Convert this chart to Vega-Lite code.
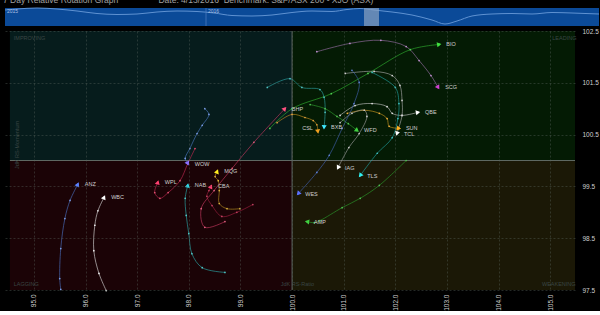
{
  "$schema": "https://vega.github.io/schema/vega-lite/v6.json",
  "background": "#000000",
  "padding": {"left": 3, "top": -5, "right": 0, "bottom": 0},
  "spacing": 1,
  "title": {"text": "7 Day Relative Rotation Graph\u00a0\u00a0\u00a0\u00a0\u00a0\u00a0\u00a0\u00a0\u00a0\u00a0\u00a0\u00a0\u00a0\u00a0\u00a0\u00a0\u00a0Date: 4/13/2016\u00a0\u00a0Benchmark: S&P/ASX 200 - XJO (ASX)", "anchor": "start", "fontSize": 8.5, "fontWeight": "normal", "color": "#a0a0a0", "font": "Liberation Sans", "offset": 2},
  "config": {"view": {"stroke": null}, "font": "Liberation Sans"},
  "datasets": {
    "nav": [
      {"d":0,"v":16},{"d":12,"v":17},{"d":32,"v":18},{"d":52,"v":17},{"d":72,"v":15},{"d":92,"v":12.5},{"d":112,"v":11.5},{"d":132,"v":12},{"d":152,"v":14},{"d":172,"v":15},{"d":192,"v":14.5},{"d":209,"v":13},{"d":227,"v":10.5},{"d":247,"v":10},{"d":267,"v":11},{"d":287,"v":13.5},{"d":307,"v":15},{"d":327,"v":14.5},{"d":342,"v":16.5},{"d":355,"v":17.5},{"d":369,"v":16},{"d":387,"v":14},{"d":407,"v":11},{"d":427,"v":6},{"d":440,"v":2},{"d":452,"v":5},{"d":467,"v":10},{"d":487,"v":12},{"d":507,"v":12.5},{"d":527,"v":12},{"d":547,"v":13.5},{"d":567,"v":13},{"d":594,"v":12}
    ],
    "rrg": [
      {"t":"ANZ","i":0,"x":95.52,"y":97.51},{"t":"ANZ","i":1,"x":95.50,"y":97.72},{"t":"ANZ","i":2,"x":95.52,"y":98.30},{"t":"ANZ","i":3,"x":95.60,"y":98.88},{"t":"ANZ","i":4,"x":95.70,"y":99.23},{"t":"ANZ","i":5,"x":95.85,"y":99.54},
      {"t":"WBC","i":0,"x":96.40,"y":97.49},{"t":"WBC","i":1,"x":96.26,"y":97.82},{"t":"WBC","i":2,"x":96.16,"y":98.26},{"t":"WBC","i":3,"x":96.18,"y":98.75},{"t":"WBC","i":4,"x":96.24,"y":99.03},{"t":"WBC","i":5,"x":96.36,"y":99.29},
      {"t":"NAB","i":0,"x":98.70,"y":97.84},{"t":"NAB","i":1,"x":98.26,"y":97.93},{"t":"NAB","i":2,"x":98.06,"y":98.20},{"t":"NAB","i":3,"x":98.00,"y":98.59},{"t":"NAB","i":4,"x":97.95,"y":98.94},{"t":"NAB","i":5,"x":97.93,"y":99.27},{"t":"NAB","i":6,"x":97.98,"y":99.52},
      {"t":"WPL","i":0,"x":98.12,"y":100.23},{"t":"WPL","i":1,"x":97.98,"y":99.94},{"t":"WPL","i":2,"x":97.83,"y":99.61},{"t":"WPL","i":3,"x":97.60,"y":99.38},{"t":"WPL","i":4,"x":97.44,"y":99.27},{"t":"WPL","i":5,"x":97.34,"y":99.38},{"t":"WPL","i":6,"x":97.40,"y":99.58},
      {"t":"WOW","i":0,"x":98.31,"y":101.00},{"t":"WOW","i":1,"x":98.39,"y":100.89},{"t":"WOW","i":2,"x":98.26,"y":100.68},{"t":"WOW","i":3,"x":98.16,"y":100.52},{"t":"WOW","i":4,"x":98.02,"y":100.23},{"t":"WOW","i":5,"x":97.93,"y":100.04},{"t":"WOW","i":6,"x":97.98,"y":99.94},
      {"t":"MQG","i":0,"x":98.99,"y":99.07},{"t":"MQG","i":1,"x":98.74,"y":99.07},{"t":"MQG","i":2,"x":98.59,"y":99.17},{"t":"MQG","i":3,"x":98.59,"y":99.42},{"t":"MQG","i":4,"x":98.57,"y":99.61},{"t":"MQG","i":5,"x":98.51,"y":99.69},{"t":"MQG","i":6,"x":98.55,"y":99.79},
      {"t":"CBA","i":0,"x":99.24,"y":99.15},{"t":"CBA","i":1,"x":98.93,"y":99.00},{"t":"CBA","i":2,"x":98.64,"y":98.92},{"t":"CBA","i":3,"x":98.45,"y":99.13},{"t":"CBA","i":4,"x":98.35,"y":99.31},{"t":"CBA","i":5,"x":98.39,"y":99.42},{"t":"CBA","i":6,"x":98.43,"y":99.50},
      {"t":"BHP","i":0,"x":98.70,"y":98.82},{"t":"BHP","i":1,"x":98.31,"y":98.71},{"t":"BHP","i":2,"x":98.24,"y":99.07},{"t":"BHP","i":3,"x":98.49,"y":99.42},{"t":"BHP","i":4,"x":98.84,"y":99.85},{"t":"BHP","i":5,"x":99.26,"y":100.35},{"t":"BHP","i":6,"x":99.86,"y":101.00},
      {"t":"SCG","i":0,"x":100.48,"y":102.10},{"t":"SCG","i":1,"x":101.12,"y":102.26},{"t":"SCG","i":2,"x":101.72,"y":102.32},{"t":"SCG","i":3,"x":102.21,"y":102.20},{"t":"SCG","i":4,"x":102.46,"y":101.93},{"t":"SCG","i":5,"x":102.69,"y":101.64},{"t":"SCG","i":6,"x":102.83,"y":101.41},
      {"t":"BIO","i":0,"x":99.57,"y":100.62},{"t":"BIO","i":1,"x":100.00,"y":101.00},{"t":"BIO","i":2,"x":100.76,"y":101.29},{"t":"BIO","i":3,"x":101.47,"y":101.68},{"t":"BIO","i":4,"x":102.29,"y":102.14},{"t":"BIO","i":5,"x":102.85,"y":102.24},
      {"t":"BXB","i":0,"x":99.52,"y":101.41},{"t":"BXB","i":1,"x":99.96,"y":101.58},{"t":"BXB","i":2,"x":100.19,"y":101.41},{"t":"BXB","i":3,"x":100.54,"y":101.37},{"t":"BXB","i":4,"x":100.62,"y":101.22},{"t":"BXB","i":5,"x":100.64,"y":100.93},{"t":"BXB","i":6,"x":100.62,"y":100.64},
      {"t":"CSL","i":0,"x":99.71,"y":100.73},{"t":"CSL","i":1,"x":100.00,"y":100.89},{"t":"CSL","i":2,"x":100.25,"y":100.83},{"t":"CSL","i":3,"x":100.41,"y":100.77},{"t":"CSL","i":4,"x":100.48,"y":100.69},{"t":"CSL","i":5,"x":100.50,"y":100.56},
      {"t":"WFD","i":0,"x":100.35,"y":101.08},{"t":"WFD","i":1,"x":100.64,"y":101.00},{"t":"WFD","i":2,"x":100.87,"y":100.85},{"t":"WFD","i":3,"x":101.09,"y":100.71},{"t":"WFD","i":4,"x":101.26,"y":100.58},
      {"t":"SUN","i":0,"x":101.07,"y":100.91},{"t":"SUN","i":1,"x":101.40,"y":100.97},{"t":"SUN","i":2,"x":101.69,"y":100.91},{"t":"SUN","i":3,"x":101.84,"y":100.81},{"t":"SUN","i":4,"x":101.88,"y":100.66},{"t":"SUN","i":5,"x":102.07,"y":100.62},
      {"t":"QBE","i":0,"x":100.93,"y":100.87},{"t":"QBE","i":1,"x":101.22,"y":101.06},{"t":"QBE","i":2,"x":101.55,"y":101.10},{"t":"QBE","i":3,"x":101.84,"y":101.04},{"t":"QBE","i":4,"x":101.94,"y":100.91},{"t":"QBE","i":5,"x":102.13,"y":100.87},{"t":"QBE","i":6,"x":102.44,"y":100.93},
      {"t":"TCL","i":0,"x":101.03,"y":101.68},{"t":"TCL","i":1,"x":101.59,"y":101.72},{"t":"TCL","i":2,"x":101.94,"y":101.64},{"t":"TCL","i":3,"x":102.09,"y":101.45},{"t":"TCL","i":4,"x":102.13,"y":101.16},{"t":"TCL","i":5,"x":102.13,"y":100.87},{"t":"TCL","i":6,"x":102.03,"y":100.52},
      {"t":"TLS","i":0,"x":101.55,"y":101.70},{"t":"TLS","i":1,"x":102.00,"y":101.41},{"t":"TLS","i":2,"x":102.07,"y":101.10},{"t":"TLS","i":3,"x":102.05,"y":100.81},{"t":"TLS","i":4,"x":101.94,"y":100.44},{"t":"TLS","i":5,"x":101.65,"y":100.14},{"t":"TLS","i":6,"x":101.32,"y":99.71},
      {"t":"IAG","i":0,"x":100.93,"y":100.73},{"t":"IAG","i":1,"x":101.16,"y":100.91},{"t":"IAG","i":2,"x":101.40,"y":100.97},{"t":"IAG","i":3,"x":101.45,"y":100.85},{"t":"IAG","i":4,"x":101.30,"y":100.52},{"t":"IAG","i":5,"x":101.10,"y":100.25},{"t":"IAG","i":6,"x":100.89,"y":99.86},
      {"t":"WES","i":0,"x":101.16,"y":101.74},{"t":"WES","i":1,"x":101.30,"y":101.51},{"t":"WES","i":2,"x":101.20,"y":101.10},{"t":"WES","i":3,"x":100.97,"y":100.62},{"t":"WES","i":4,"x":100.72,"y":100.10},{"t":"WES","i":5,"x":100.48,"y":99.77},{"t":"WES","i":6,"x":100.12,"y":99.36},
      {"t":"AMP","i":0,"x":102.21,"y":100.00},{"t":"AMP","i":1,"x":101.69,"y":99.52},{"t":"AMP","i":2,"x":101.32,"y":99.27},{"t":"AMP","i":3,"x":100.97,"y":99.09},{"t":"AMP","i":4,"x":100.54,"y":98.84},{"t":"AMP","i":5,"x":100.43,"y":98.80},{"t":"AMP","i":6,"x":100.29,"y":98.82}
    ]
  },
  "vconcat": [
    {
      "width": 594,
      "height": 18,
      "view": {"fill": "#0b4a98", "stroke": null},
      "layer": [
        {"data": {"values": [{"d": 201}]}, "mark": {"type": "rule", "color": "#3d6fb5", "strokeWidth": 1}, "encoding": {"x": {"field": "d", "type": "quantitative", "scale": {"domain": [0, 594], "nice": false, "zero": false}, "axis": null}}},
        {"data": {"name": "nav"}, "mark": {"type": "line", "color": "#5f92d2", "strokeWidth": 1, "interpolate": "monotone"},
         "encoding": {"x": {"field": "d", "type": "quantitative"}, "y": {"field": "v", "type": "quantitative", "scale": {"domain": [0, 18], "nice": false, "zero": false}, "axis": null}}},
        {"data": {"values": [{"a": 359, "b": 374}]}, "mark": {"type": "rect", "color": "#8aa3c2", "opacity": 0.7}, "encoding": {"x": {"field": "a", "type": "quantitative"}, "x2": {"field": "b"}}},
        {"data": {"values": [{"d": 2, "v": 15, "s": "2015"}, {"d": 203, "v": 15, "s": "2016"}]}, "mark": {"type": "text", "align": "left", "baseline": "middle", "fontSize": 5, "color": "#a9bfe0"},
         "encoding": {"x": {"field": "d", "type": "quantitative"}, "y": {"field": "v", "type": "quantitative"}, "text": {"field": "s"}}}
      ]
    },
    {
      "width": 570,
      "height": 259,
      "view": {"fill": "#000000", "stroke": null},
      "resolve": {"scale": {"color": "independent"}},
      "layer": [
        {
          "data": {"values": [
            {"q": "Improving", "x0": 94.535, "x1": 100, "y0": 100, "y1": 102.5},
            {"q": "Leading", "x0": 100, "x1": 105.48, "y0": 100, "y1": 102.5},
            {"q": "Lagging", "x0": 94.535, "x1": 100, "y0": 97.5, "y1": 100},
            {"q": "Weakening", "x0": 100, "x1": 105.48, "y0": 97.5, "y1": 100}
          ]},
          "mark": {"type": "rect"},
          "encoding": {
            "x": {"field": "x0", "type": "quantitative", "scale": {"domain": [94.44, 105.48], "nice": false, "zero": false},
                  "axis": {"values": [95, 95.5, 96, 96.5, 97, 97.5, 98, 98.5, 99, 99.5, 100, 100.5, 101, 101.5, 102, 102.5, 103, 103.5, 104, 104.5, 105], "format": ".1f", "labelAngle": -90, "labelColor": "#d0d0d0", "labelFontSize": 6.5, "ticks": false, "domain": false, "grid": true, "gridColor": "#5a665e", "gridDash": [2, 2], "gridOpacity": 0.5, "gridWidth": 0.8, "title": null, "labelPadding": 4, "zindex": 1}},
            "x2": {"field": "x1"},
            "y": {"field": "y0", "type": "quantitative", "scale": {"domain": [97.5, 102.5], "nice": false, "zero": false},
                  "axis": {"orient": "right", "values": [97.5, 98, 98.5, 99, 99.5, 100, 100.5, 101, 101.5, 102, 102.5], "format": ".1f", "labelColor": "#d0d0d0", "labelFontSize": 6.5, "ticks": false, "domain": false, "grid": true, "gridColor": "#5a665e", "gridDash": [2, 2], "gridOpacity": 0.5, "gridWidth": 0.8, "title": null, "labelPadding": 7, "zindex": 1}},
            "y2": {"field": "y1"},
            "color": {"field": "q", "type": "nominal", "scale": {"domain": ["Improving", "Leading", "Lagging", "Weakening"], "range": ["#061c1c", "#041b04", "#1b0306", "#1b1806"]}, "legend": null}
          }
        },
        {"data": {"values": [{}]}, "mark": {"type": "rule", "color": "#5e6862", "strokeWidth": 1}, "encoding": {"x": {"datum": 100}, "y": {"datum": 97.5}, "y2": {"datum": 102.5}}},
        {"data": {"values": [{}]}, "mark": {"type": "rule", "color": "#5e6862", "strokeWidth": 1}, "encoding": {"y": {"datum": 100}, "x": {"datum": 94.535}, "x2": {"datum": 105.48}}},
        {
          "data": {"values": [
            {"s": "IMPROVING", "x": 94.61, "y": 102.37},
            {"s": "LEADING", "x": 105.04, "y": 102.37},
            {"s": "LAGGING", "x": 94.61, "y": 97.62},
            {"s": "WEAKENING", "x": 104.84, "y": 97.62},
            {"s": "JdK RS-Ratio", "x": 99.78, "y": 97.62}
          ]},
          "mark": {"type": "text", "align": "left", "baseline": "middle", "fontSize": 5.5, "color": "#3a4644"},
          "encoding": {"x": {"field": "x", "type": "quantitative"}, "y": {"field": "y", "type": "quantitative"}, "text": {"field": "s"}}
        },
        {
          "data": {"values": [{"s": "JdK RS-Momentum", "x": 94.67, "y": 100.3}]},
          "mark": {"type": "text", "align": "center", "baseline": "middle", "fontSize": 5.5, "angle": 270, "color": "#3a4644"},
          "encoding": {"x": {"field": "x", "type": "quantitative"}, "y": {"field": "y", "type": "quantitative"}, "text": {"field": "s"}}
        },
        {
          "data": {"name": "rrg"},
          "mark": {"type": "line", "strokeWidth": 0.75, "opacity": 0.85, "interpolate": "catmull-rom"},
          "encoding": {
            "x": {"field": "x", "type": "quantitative"},
            "y": {"field": "y", "type": "quantitative"},
            "order": {"field": "i", "type": "quantitative"},
            "color": {"field": "t", "type": "nominal", "legend": null, "scale": {"domain": ["ANZ","WBC","NAB","WPL","WOW","MQG","CBA","BHP","SCG","BIO","BXB","CSL","WFD","SUN","QBE","TCL","TLS","IAG","WES","AMP"], "range": ["#4a6fc0","#d8d8d8","#2aa8a8","#c02850","#4a78c0","#b89020","#a02040","#c83860","#9a70a8","#30b030","#2aa0a0","#c89020","#30a030","#d09a20","#c0c0c0","#a8a8a8","#20a0a0","#a0a0a0","#4060b0","#2a9a2a"]}}
          }
        },
        {
          "data": {"name": "rrg"},
          "mark": {"type": "point", "filled": true, "size": 3, "opacity": 1},
          "encoding": {
            "x": {"field": "x", "type": "quantitative"},
            "y": {"field": "y", "type": "quantitative"},
            "color": {"field": "t", "type": "nominal", "legend": null, "scale": {"domain": ["ANZ","WBC","NAB","WPL","WOW","MQG","CBA","BHP","SCG","BIO","BXB","CSL","WFD","SUN","QBE","TCL","TLS","IAG","WES","AMP"], "range": ["#7a9ae0","#f0f0f0","#50c8c8","#e05070","#7a9ae0","#d8b040","#c04060","#e06080","#c090d0","#50d050","#50c0c0","#e0a040","#50c050","#f0b040","#e0e0e0","#d0d0d0","#40c0c0","#c8c8c8","#6080d0","#50c050"]}}
          }
        },
        {
          "data": {"name": "rrg"},
          "transform": [
            {"window": [{"op": "lag", "field": "x", "as": "px"}, {"op": "lag", "field": "y", "as": "py"}], "groupby": ["t"], "sort": [{"field": "i", "order": "ascending"}]},
            {"joinaggregate": [{"op": "max", "field": "i", "as": "mi"}], "groupby": ["t"]},
            {"filter": "datum.i == datum.mi"},
            {"calculate": "atan2(datum.x - datum.px, datum.y - datum.py) * 180 / PI", "as": "ang"}
          ],
          "mark": {"type": "point", "filled": true, "shape": "triangle-up", "size": 26, "opacity": 1},
          "encoding": {
            "x": {"field": "x", "type": "quantitative"},
            "y": {"field": "y", "type": "quantitative"},
            "angle": {"field": "ang", "type": "quantitative", "scale": null},
            "color": {"field": "t", "type": "nominal", "legend": null, "scale": {"domain": ["ANZ","WBC","NAB","WPL","WOW","MQG","CBA","BHP","SCG","BIO","BXB","CSL","WFD","SUN","QBE","TCL","TLS","IAG","WES","AMP"], "range": ["#5a80ff","#ffffff","#30d8e8","#ff4070","#8a70ff","#ffee20","#ff4070","#ff5080","#d040d0","#40e040","#40e8ff","#f0a020","#40d040","#ffb020","#ffffff","#ffffff","#30f0f0","#ffffff","#5a70ff","#40d040"]}}
          }
        },
        {
          "data": {"name": "rrg"},
          "transform": [
            {"joinaggregate": [{"op": "max", "field": "i", "as": "mi"}], "groupby": ["t"]},
            {"filter": "datum.i == datum.mi && datum.t != 'CSL'"}
          ],
          "mark": {"type": "text", "align": "left", "baseline": "middle", "dx": 7, "fontSize": 5.5, "color": "#cfcfcf"},
          "encoding": {"x": {"field": "x", "type": "quantitative"}, "y": {"field": "y", "type": "quantitative"}, "text": {"field": "t"}}
        },
        {
          "data": {"name": "rrg"},
          "transform": [
            {"joinaggregate": [{"op": "max", "field": "i", "as": "mi"}], "groupby": ["t"]},
            {"filter": "datum.i == datum.mi && datum.t == 'CSL'"}
          ],
          "mark": {"type": "text", "align": "right", "baseline": "middle", "dx": -5, "dy": -3, "fontSize": 5.5, "color": "#cfcfcf"},
          "encoding": {"x": {"field": "x", "type": "quantitative"}, "y": {"field": "y", "type": "quantitative"}, "text": {"field": "t"}}
        }
      ]
    }
  ]
}
